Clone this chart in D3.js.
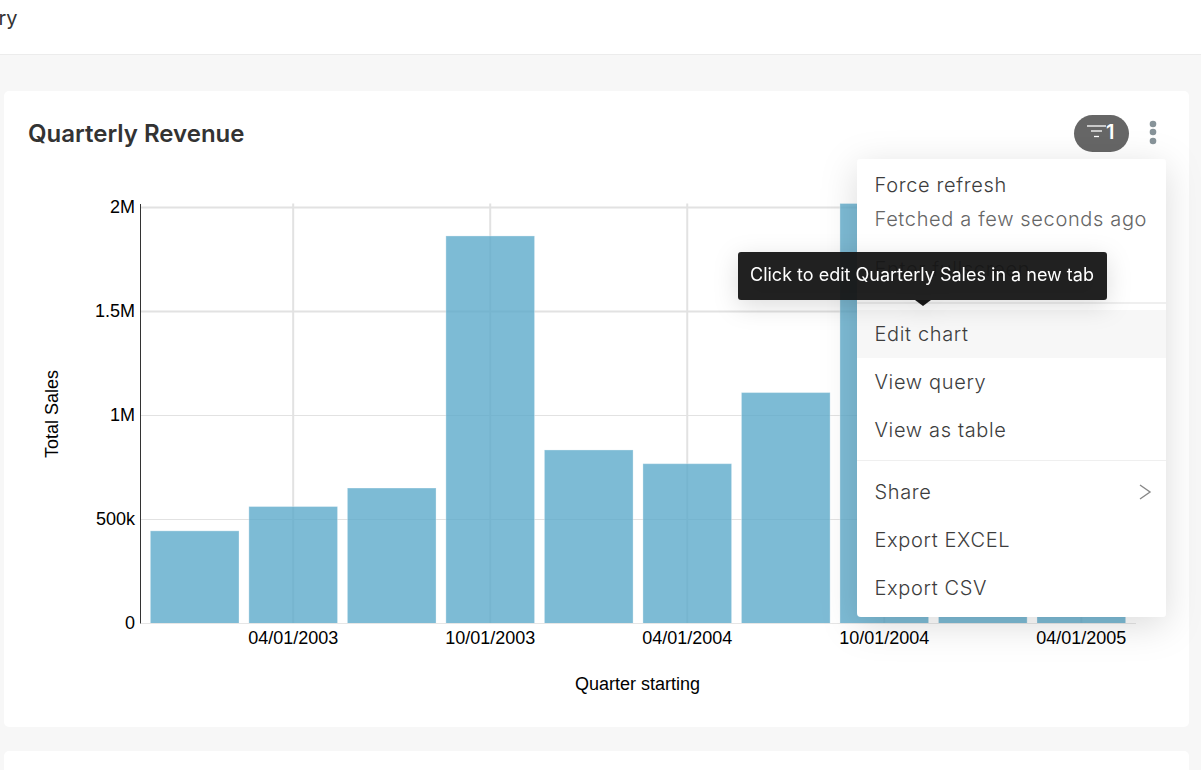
<!DOCTYPE html>
<html>
<head>
<meta charset="utf-8">
<script src="https://d3js.org/d3.v7.min.js"></script>
<style>
html, body { margin: 0; padding: 0; background: #f7f7f7; overflow: hidden; }
svg { display: block; }
text { font-family: Inter, sans-serif; }
.axis text, .axis-title { font-family: "Liberation Sans", Arial, sans-serif; fill: #000; }
</style>
</head>
<body>
<svg id="page" width="1201" height="770"></svg>
<script>
const quarters = ["01/01/2003", "04/01/2003", "07/01/2003", "10/01/2003", "01/01/2004",
    "04/01/2004", "07/01/2004", "10/01/2004", "01/01/2005", "04/01/2005"];
// last two bars are hidden behind the menu, their tops are estimates
const sales = [443000, 560000, 649000, 1861000, 832000, 766000, 1108000, 2017000, 1070000, 720000];
const xTicks = ["04/01/2003", "10/01/2003", "04/01/2004", "10/01/2004", "04/01/2005"];
const yTicks = [0, 500000, 1000000, 1500000, 2000000];
const yLabels = ["0", "500k", "1M", "1.5M", "2M"];

const menuTop = [
    {label: "Force refresh", y: 185, color: "#3d3d3d"},
    {label: "Fetched a few seconds ago", y: 219, color: "#666"},
    {label: "Enter fullscreen", y: 269, color: "#3d3d3d"}
];
const menuBottom = [
    {label: "Edit chart", y: 334},
    {label: "View query", y: 382},
    {label: "View as table", y: 430},
    {label: "Share", y: 492},
    {label: "Export EXCEL", y: 540},
    {label: "Export CSV", y: 588}
];

const plotLeft = 140, plotRight = 1135, plotTop = 203.5, plotBottom = 623;
const svg = d3.select("#page");

const defs = svg.append("defs");
const menuShadow = defs.append("filter").attr("id", "menuShadow")
    .attr("x", "-30%").attr("y", "-20%").attr("width", "160%").attr("height", "140%");
menuShadow.append("feDropShadow").attr("dx", 0).attr("dy", 8).attr("stdDeviation", 18)
    .attr("flood-color", "#000").attr("flood-opacity", 0.14);
const tipShadow = defs.append("filter").attr("id", "tipShadow")
    .attr("x", "-20%").attr("y", "-60%").attr("width", "140%").attr("height", "240%");
tipShadow.append("feDropShadow").attr("dx", 0).attr("dy", 6).attr("stdDeviation", 12)
    .attr("flood-color", "#000").attr("flood-opacity", 0.14);

// page chrome
svg.append("rect").attr("width", 1201).attr("height", 54).attr("fill", "#fff");
svg.append("line").attr("x1", 0).attr("x2", 1201).attr("y1", 54.5).attr("y2", 54.5).attr("stroke", "#ececec");
svg.append("text").attr("x", -1.5).attr("y", 25).attr("font-size", 20).attr("fill", "#333").text("ry");
svg.append("rect").attr("x", 4).attr("y", 91).attr("width", 1185).attr("height", 636).attr("rx", 5).attr("fill", "#fff");
svg.append("rect").attr("x", 4).attr("y", 751).attr("width", 1185).attr("height", 40).attr("rx", 5).attr("fill", "#fff");
svg.append("text").attr("x", 28).attr("y", 142).attr("font-size", 24).attr("font-weight", 600)
    .attr("fill", "#333").text("Quarterly Revenue");

// chart
const x = d3.scaleBand().domain(quarters).range([plotLeft + 0.5, plotRight + 0.5]).paddingInner(0.1).paddingOuter(0.1);
const y = d3.scaleLinear().domain([0, d3.max(sales)]).range([plotBottom, plotTop]);

const xGrid = svg.append("g").attr("transform", `translate(0,${plotBottom})`)
    .call(d3.axisBottom(x).tickValues(xTicks).tickSize(plotTop - plotBottom).tickFormat(""));
xGrid.select(".domain").remove();
xGrid.selectAll("line").attr("stroke", "#e2e2e2").attr("stroke-width", 2);

const yGrid = svg.append("g").attr("transform", `translate(${plotLeft},0)`)
    .call(d3.axisRight(y).tickValues(yTicks.slice(1)).tickSize(plotRight - plotLeft).tickFormat(""));
yGrid.select(".domain").remove();
yGrid.selectAll("line").attr("stroke", "#e2e2e2").attr("stroke-width", d => d === 1000000 || d === 500000 ? 1 : 2);

svg.selectAll(".bar")
    .data(sales)
    .join("rect")
    .attr("class", "bar")
    .attr("x", (d, i) => x(quarters[i]))
    .attr("y", d => y(d))
    .attr("width", x.bandwidth())
    .attr("height", d => plotBottom + 0.5 - y(d))
    .attr("fill", "#5daaca")
    .attr("fill-opacity", 0.8)
    .attr("stroke", "#fff")
    .attr("stroke-opacity", 0.3);

const xAxis = svg.append("g").attr("class", "axis").attr("transform", `translate(0,${plotBottom})`)
    .call(d3.axisBottom(x).tickValues(xTicks).tickSize(0).tickPadding(8));
xAxis.select(".domain").attr("stroke", "#e6e6e6");
xAxis.selectAll("text").style("font-size", "18px");

const yAxis = svg.append("g").attr("class", "axis").attr("transform", `translate(${plotLeft},0)`)
    .call(d3.axisLeft(y).tickValues(yTicks).tickSize(0).tickPadding(5)
        .tickFormat((d, i) => yLabels[i]));
yAxis.select(".domain").attr("stroke", "#333");
yAxis.selectAll("text").style("font-size", "18px");

svg.append("text").attr("class", "axis-title").attr("x", 637.5).attr("y", 690)
    .attr("text-anchor", "middle").style("font-size", "18px").text("Quarter starting");
svg.append("text").attr("class", "axis-title")
    .attr("transform", "translate(58,414) rotate(-90)")
    .attr("text-anchor", "middle").style("font-size", "18px").text("Total Sales");

// filter badge and kebab
svg.append("rect").attr("x", 1074).attr("y", 115).attr("width", 55).attr("height", 37).attr("rx", 18.5).attr("fill", "#666");
[[1087, 1106, 126], [1091, 1102, 131], [1094, 1099, 136.5]].forEach(([a, b, c]) => {
    svg.append("line").attr("x1", a).attr("x2", b).attr("y1", c).attr("y2", c).attr("stroke", "#fff").attr("stroke-width", 1.3);
});
svg.append("text").attr("x", 1106).attr("y", 139).attr("font-size", 20).attr("font-weight", 600).attr("fill", "#fff").text("1");
svg.selectAll(".dot").data([124, 132, 141]).join("circle").attr("class", "dot")
    .attr("cx", 1153).attr("cy", d => d).attr("r", 3.3).attr("fill", "#879399");

// dropdown menu
svg.append("rect").attr("x", 857).attr("y", 159).attr("width", 309).attr("height", 458).attr("rx", 4)
    .attr("fill", "#fff").attr("filter", "url(#menuShadow)");
svg.append("rect").attr("x", 857).attr("y", 310).attr("width", 309).attr("height", 48).attr("fill", "#f7f7f7");
svg.selectAll(".divider").data([303, 460.5]).join("line").attr("class", "divider")
    .attr("x1", 857).attr("x2", 1166).attr("y1", d => d).attr("y2", d => d)
    .attr("stroke", "#efefef").attr("stroke-width", d => d === 303 ? 2 : 1);
svg.selectAll(".menu-item").data(menuTop.concat(menuBottom)).join("text").attr("class", "menu-item")
    .attr("x", 874.5).attr("y", d => d.y).attr("dy", "0.35em")
    .attr("font-size", 20).attr("font-weight", 300).attr("letter-spacing", 0.65)
    .attr("fill", d => d.color || "#3d3d3d")
    .text(d => d.label);
svg.append("path").attr("d", d3.line()([[1140, 485], [1150, 492], [1140, 499]]))
    .attr("fill", "none").attr("stroke", "#888").attr("stroke-width", 1.4);

// tooltip
const tip = svg.append("g").attr("filter", "url(#tipShadow)");
tip.append("rect").attr("x", 738).attr("y", 252).attr("width", 369).attr("height", 48).attr("rx", 3)
    .attr("fill", "#151515").attr("fill-opacity", 0.95);
tip.append("path").attr("d", d3.line()([[915, 300], [923, 306], [931, 300]])).attr("fill", "#151515");
tip.append("text").attr("x", 750).attr("y", 275).attr("dy", "0.35em").attr("font-size", 18)
    .attr("fill", "#fff").text("Click to edit Quarterly Sales in a new tab");
</script>
</body>
</html>
